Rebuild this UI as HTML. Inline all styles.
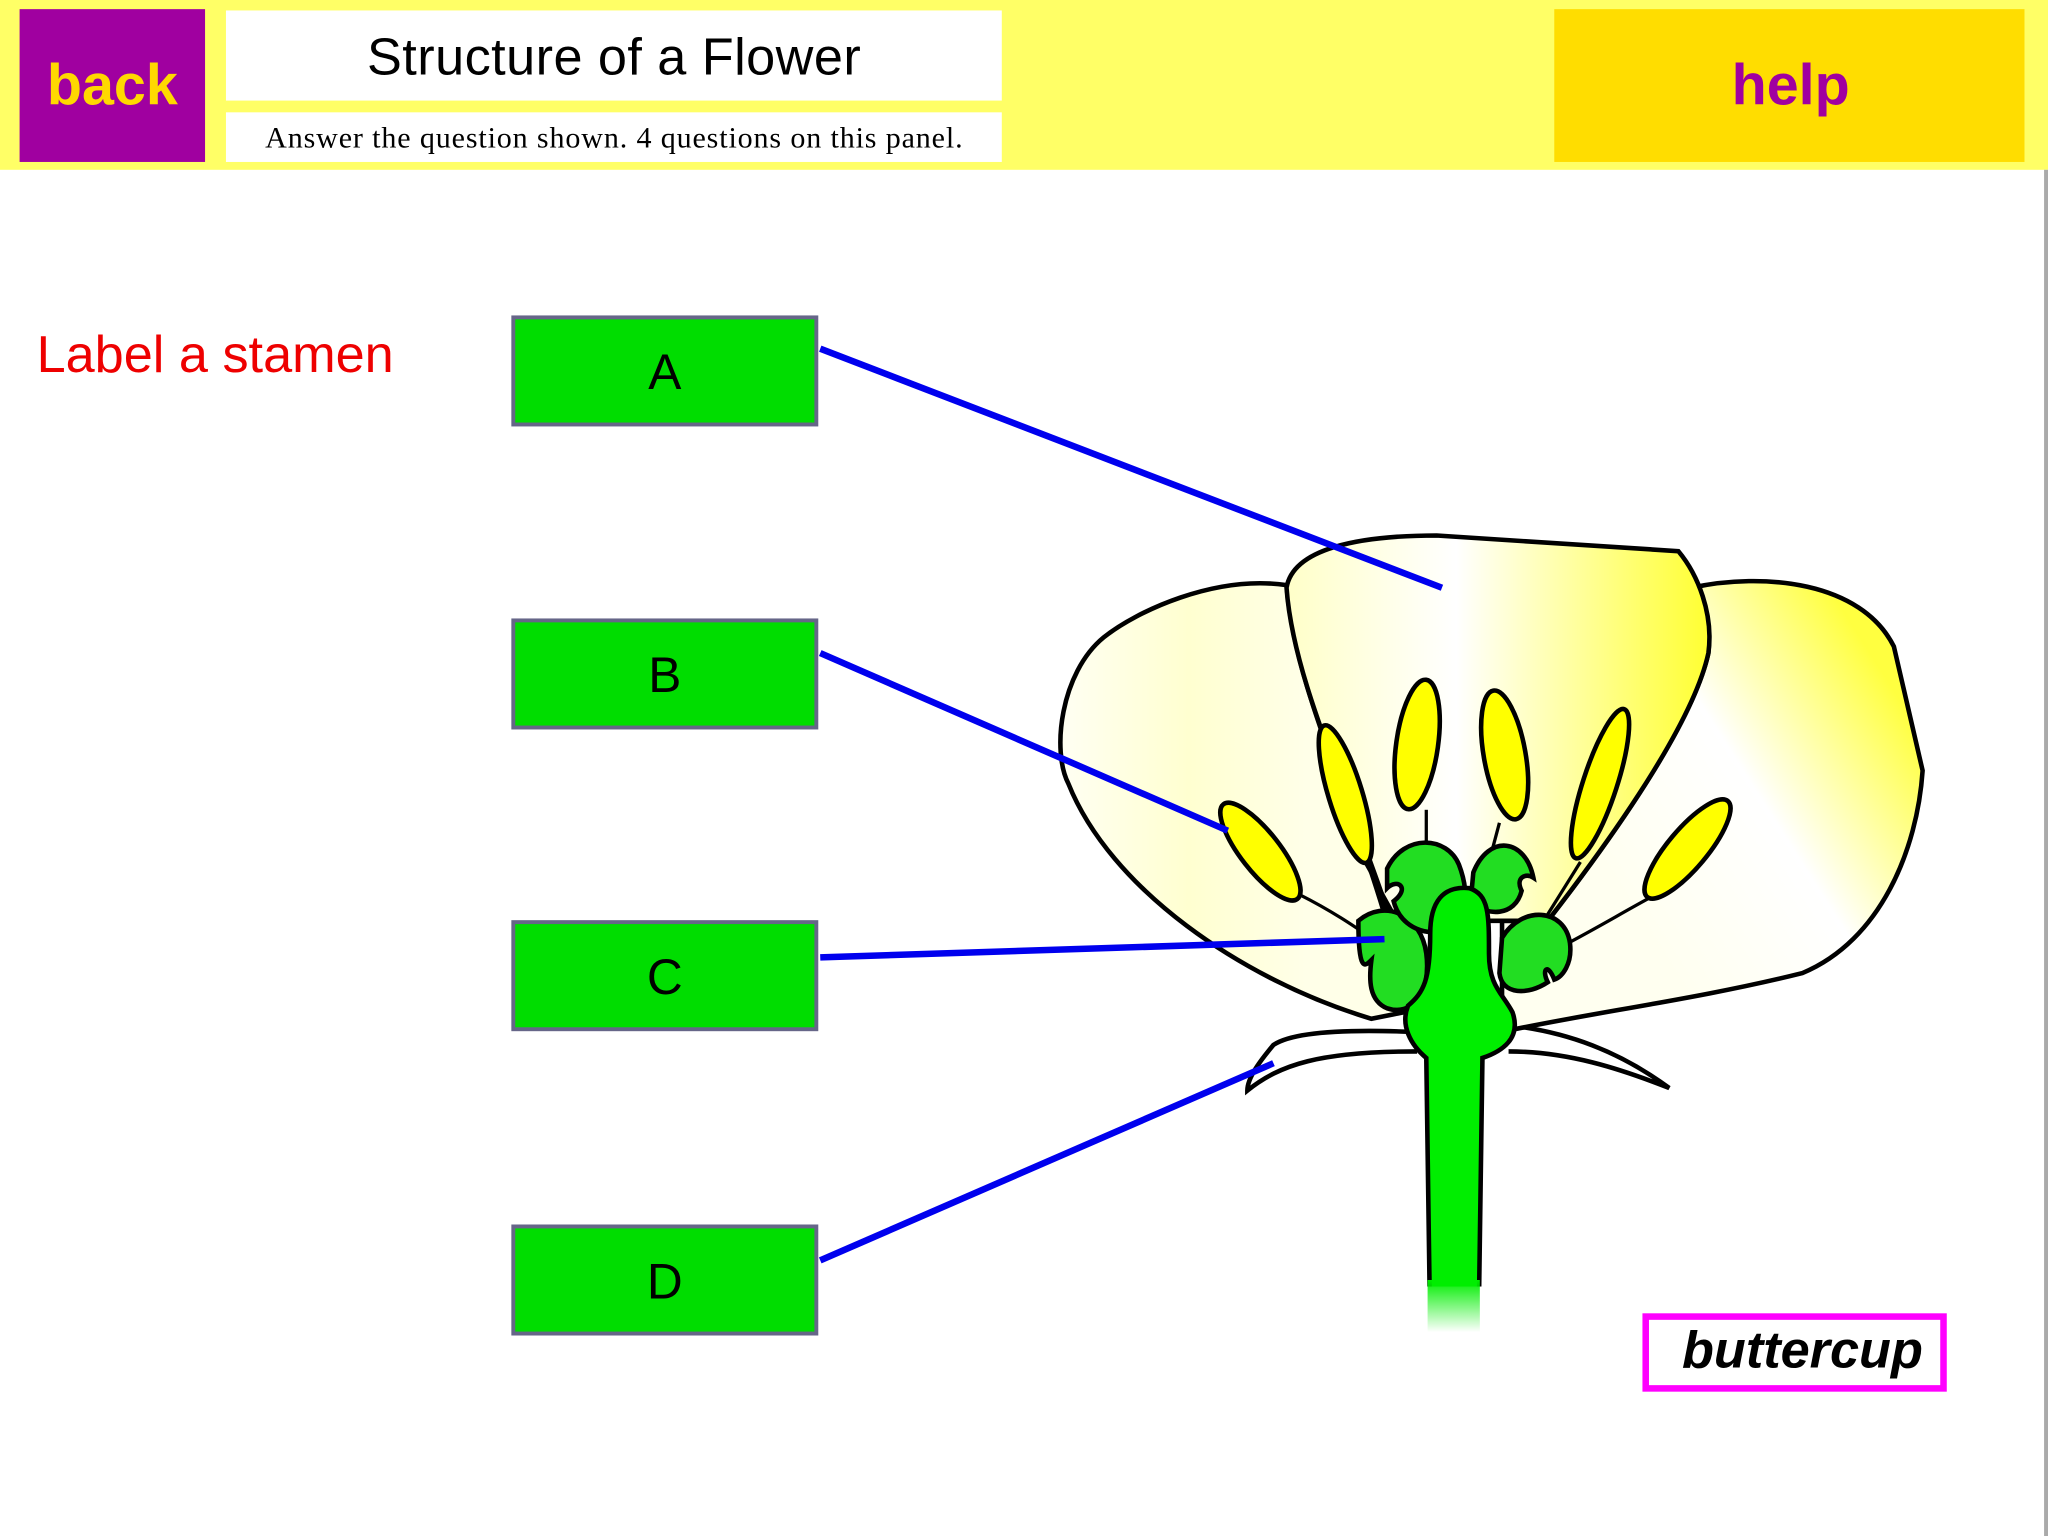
<!DOCTYPE html>
<html><head><meta charset="utf-8"><style>
html,body{margin:0;padding:0;background:#fff;}
svg{display:block;}
</style></head><body>
<svg width="2048" height="1536" viewBox="0 0 1568 1176" xmlns="http://www.w3.org/2000/svg">
<defs>
<linearGradient id="gc" x1="985" y1="0" x2="1310" y2="0" gradientUnits="userSpaceOnUse">
<stop offset="0" stop-color="#ffffc8"/><stop offset="0.4" stop-color="#ffffff"/><stop offset="1" stop-color="#ffff30"/></linearGradient>
<linearGradient id="gl" x1="820" y1="0" x2="1000" y2="0" gradientUnits="userSpaceOnUse">
<stop offset="0" stop-color="#fffff0"/><stop offset="0.5" stop-color="#ffffd0"/><stop offset="1" stop-color="#ffffe8"/></linearGradient>
<linearGradient id="gr" x1="1250" y1="700" x2="1470" y2="560" gradientUnits="userSpaceOnUse">
<stop offset="0" stop-color="#fffff0"/><stop offset="0.5" stop-color="#ffffff"/><stop offset="1" stop-color="#ffff40"/></linearGradient>
<linearGradient id="gs" x1="0" y1="980" x2="0" y2="1020" gradientUnits="userSpaceOnUse">
<stop offset="0" stop-color="#00ee00"/><stop offset="1" stop-color="#00ee00" stop-opacity="0"/></linearGradient>
</defs>
<!-- header -->
<rect x="0" y="0" width="1568" height="130" fill="#ffff66"/>
<rect x="1565" y="130" width="3" height="1046" fill="#aaa"/>
<rect x="15" y="7" width="142" height="117" fill="#a000a0"/>
<text x="86" y="80" font-family="Liberation Sans, sans-serif" font-weight="bold" font-size="44" fill="#ffd800" text-anchor="middle">back</text>
<rect x="173" y="8" width="594" height="69" fill="#fff"/>
<text x="470" y="57" font-family="Liberation Sans, sans-serif" font-size="40" fill="#000" text-anchor="middle" textLength="378">Structure of a Flower</text>
<rect x="173" y="86" width="594" height="38" fill="#fff"/>
<text x="470" y="113" font-family="Liberation Serif, serif" font-size="23" fill="#000" text-anchor="middle" textLength="534">Answer the question shown. 4 questions on this panel.</text>
<rect x="1190" y="7" width="360" height="117" fill="#ffdd00"/>
<text x="1371" y="80" font-family="Liberation Sans, sans-serif" font-weight="bold" font-size="44" fill="#a000a0" text-anchor="middle">help</text>

<text x="28" y="285" font-family="Liberation Sans, sans-serif" font-size="40" fill="#ee0000">Label a stamen</text>

<!-- sepals -->
<path d="M1080,790 C1030,788 990,790 975,800 C965,812 955,825 955,835 C980,815 1010,805 1085,805" fill="#fff" stroke="#000" stroke-width="3.5"/>
<path d="M1155,785 C1200,790 1240,805 1278,833 C1240,818 1200,805 1155,805" fill="#fff" stroke="#000" stroke-width="3.5"/>
<!-- petals -->
<path d="M985,448 C930,440 870,468 845,488 C812,515 805,575 818,600 C850,680 950,750 1050,780 L1075,775 L1060,700 C1030,600 990,520 985,448 Z" fill="url(#gl)" stroke="#000" stroke-width="3.5"/>
<path d="M1295,450 C1350,438 1425,445 1450,495 L1472,590 C1468,650 1440,720 1380,745 C1300,765 1220,775 1150,790 L1150,705 L1185,705 C1220,660 1295,560 1308,500 C1310,480 1305,465 1295,450 Z" fill="url(#gr)" stroke="#000" stroke-width="3.5"/>
<path d="M985,450 C990,420 1040,410 1100,410 L1285,422 C1300,440 1312,470 1308,500 C1295,560 1220,660 1185,705 L1065,705 C1030,600 990,520 985,450 Z" fill="url(#gc)" stroke="#000" stroke-width="3.5"/>
<!-- filaments -->
<g stroke="#000" stroke-width="2.5" fill="none">
<path d="M995,685 C1025,700 1045,715 1060,725"/>
<path d="M1045,660 L1070,705"/>
<path d="M1092,620 L1092,660"/>
<path d="M1148,630 L1140,660"/>
<path d="M1210,660 L1185,700"/>
<path d="M1262,688 C1240,700 1220,712 1195,725"/>
</g>
<!-- anthers -->
<g fill="#ffff00" stroke="#000" stroke-width="3.5">
<ellipse cx="965" cy="652" rx="15" ry="46" transform="rotate(-38 965 652)"/>
<ellipse cx="1030" cy="608" rx="13" ry="55" transform="rotate(-17 1030 608)"/>
<ellipse cx="1085" cy="570" rx="16" ry="50" transform="rotate(8 1085 570)"/>
<ellipse cx="1152" cy="578" rx="16" ry="50" transform="rotate(-10 1152 578)"/>
<ellipse cx="1225" cy="600" rx="13" ry="60" transform="rotate(18 1225 600)"/>
<ellipse cx="1292" cy="650" rx="15" ry="48" transform="rotate(40 1292 650)"/>
</g>
<!-- carpels -->
<g fill="#22dd22" stroke="#000" stroke-width="3.5">
<path d="M1040,705 C1060,688 1088,700 1092,730 C1096,762 1080,778 1062,772 C1048,766 1048,750 1050,735 C1045,740 1040,745 1040,705 Z"/>
<path d="M1150,718 C1165,693 1198,695 1202,722 C1204,738 1196,748 1190,750 C1185,737 1180,742 1185,752 C1170,762 1150,762 1148,745 Z"/>
<path d="M1128,668 C1140,638 1168,642 1174,672 C1168,668 1160,672 1165,682 C1160,702 1138,702 1126,690 Z"/>
<path d="M1062,665 C1075,638 1108,640 1117,662 C1127,688 1122,712 1100,714 C1080,714 1070,702 1067,690 C1080,680 1070,672 1062,680 Z"/>
</g>
<!-- stem & receptacle -->
<path d="M1095,1020 L1092,810 C1080,800 1072,785 1078,770 C1090,760 1095,750 1095,715 C1095,690 1105,678 1125,680 C1140,685 1140,700 1140,730 C1140,755 1150,760 1158,775 C1165,795 1150,805 1135,810 L1132,1020 Z" fill="#00ee00" stroke="#000" stroke-width="3.5"/>
<rect x="1088" y="985" width="52" height="40" fill="#fff"/>
<rect x="1093" y="980" width="40" height="42" fill="url(#gs)"/>
<!-- lines -->
<g stroke="#0000ee" stroke-width="5" stroke-linecap="butt">
<line x1="628" y1="267" x2="1104" y2="450"/>
<line x1="628" y1="500" x2="940" y2="636"/>
<line x1="628" y1="733" x2="1060" y2="719"/>
<line x1="628" y1="965" x2="975" y2="814"/>
</g>
<!-- boxes -->
<g fill="#00dd00" stroke="#666688" stroke-width="3">
<rect x="393" y="243" width="232" height="82"/>
<rect x="393" y="475" width="232" height="82"/>
<rect x="393" y="706" width="232" height="82"/>
<rect x="393" y="939" width="232" height="82"/>
</g>
<g font-family="Liberation Sans, sans-serif" font-size="38" fill="#000" text-anchor="middle">
<text x="509" y="298">A</text>
<text x="509" y="530">B</text>
<text x="509" y="761">C</text>
<text x="509" y="994">D</text>
</g>
<rect x="1260" y="1008" width="228" height="55" fill="#fff" stroke="#ff00ff" stroke-width="5"/>
<text x="1380" y="1047" font-family="Liberation Sans, sans-serif" font-weight="bold" font-style="italic" font-size="40" fill="#000" text-anchor="middle">buttercup</text>
</svg>
</body></html>
